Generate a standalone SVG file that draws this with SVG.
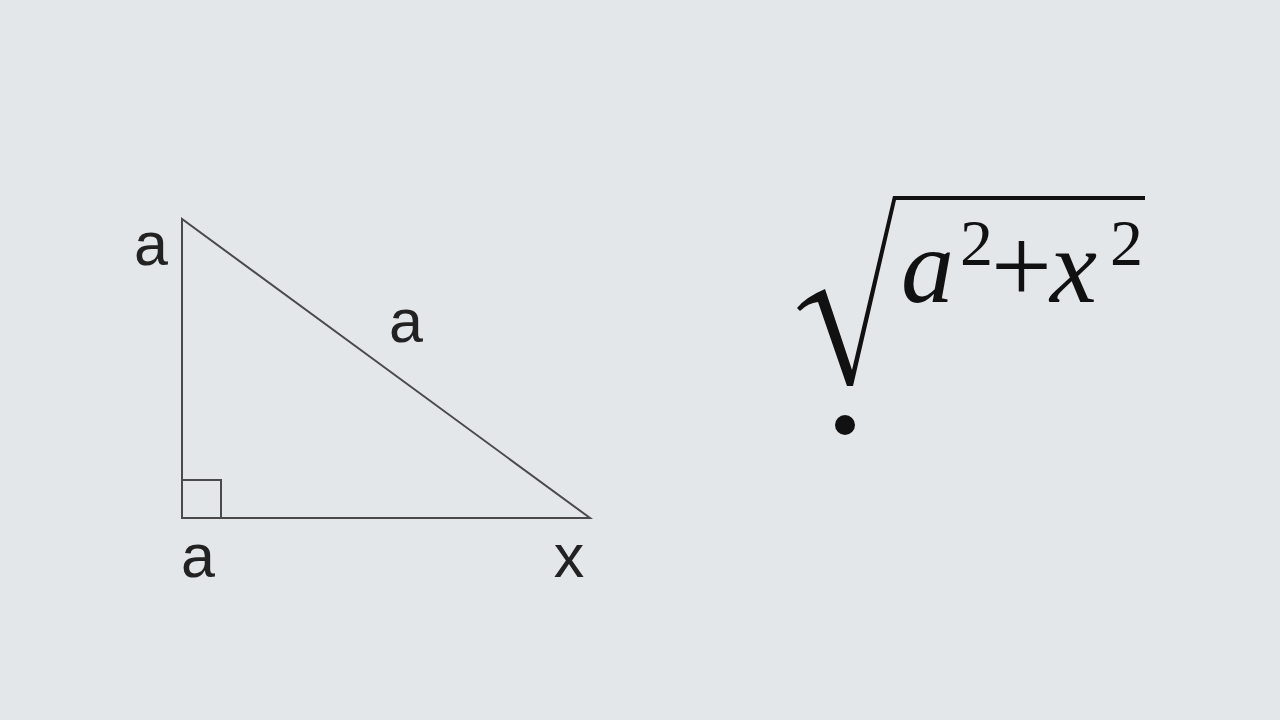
<svg xmlns="http://www.w3.org/2000/svg" width="1280" height="720" viewBox="0 0 1280 720">
<style>
.lbl{font-family:"Liberation Sans","DejaVu Sans",sans-serif;font-size:61px;fill:#222;text-anchor:middle}
.edge{fill:none;stroke:#4a4a4a;stroke-width:2}
.math{font-family:"Liberation Serif","DejaVu Serif",serif;fill:#111}
</style>
<rect width="1280" height="720" fill="#e4e7ea"/>
<g id="triangle">
<path class="edge" d="M182 219 L182 518 L590 518 Z" stroke-linejoin="miter"/>
<path class="edge" d="M182 480 L221 480 L221 518"/>
</g>
<g id="labels">
<text class="lbl" x="151" y="265">a</text>
<text class="lbl" x="406" y="342">a</text>
<text class="lbl" x="198" y="577">a</text>
<text class="lbl" x="569" y="577">x</text>
</g>
<g id="formula">
<path fill="#111" d="M797 308 Q806 297 825 289 L852 370 L893 196 L1145 196 L1145 200 L896 200 L853 386 L847 386 L818 302 Q808 303 800 311 Z"/>
<circle cx="845" cy="425" r="10" fill="#111"/>
<text class="math" y="302" font-size="106"><tspan x="901" font-style="italic">a</tspan><tspan x="960" y="265" font-size="66">2</tspan><tspan x="991" y="302" font-size="108">+</tspan><tspan x="1050" font-style="italic">x</tspan><tspan x="1110" y="265" font-size="66">2</tspan></text>
</g>
</svg>
